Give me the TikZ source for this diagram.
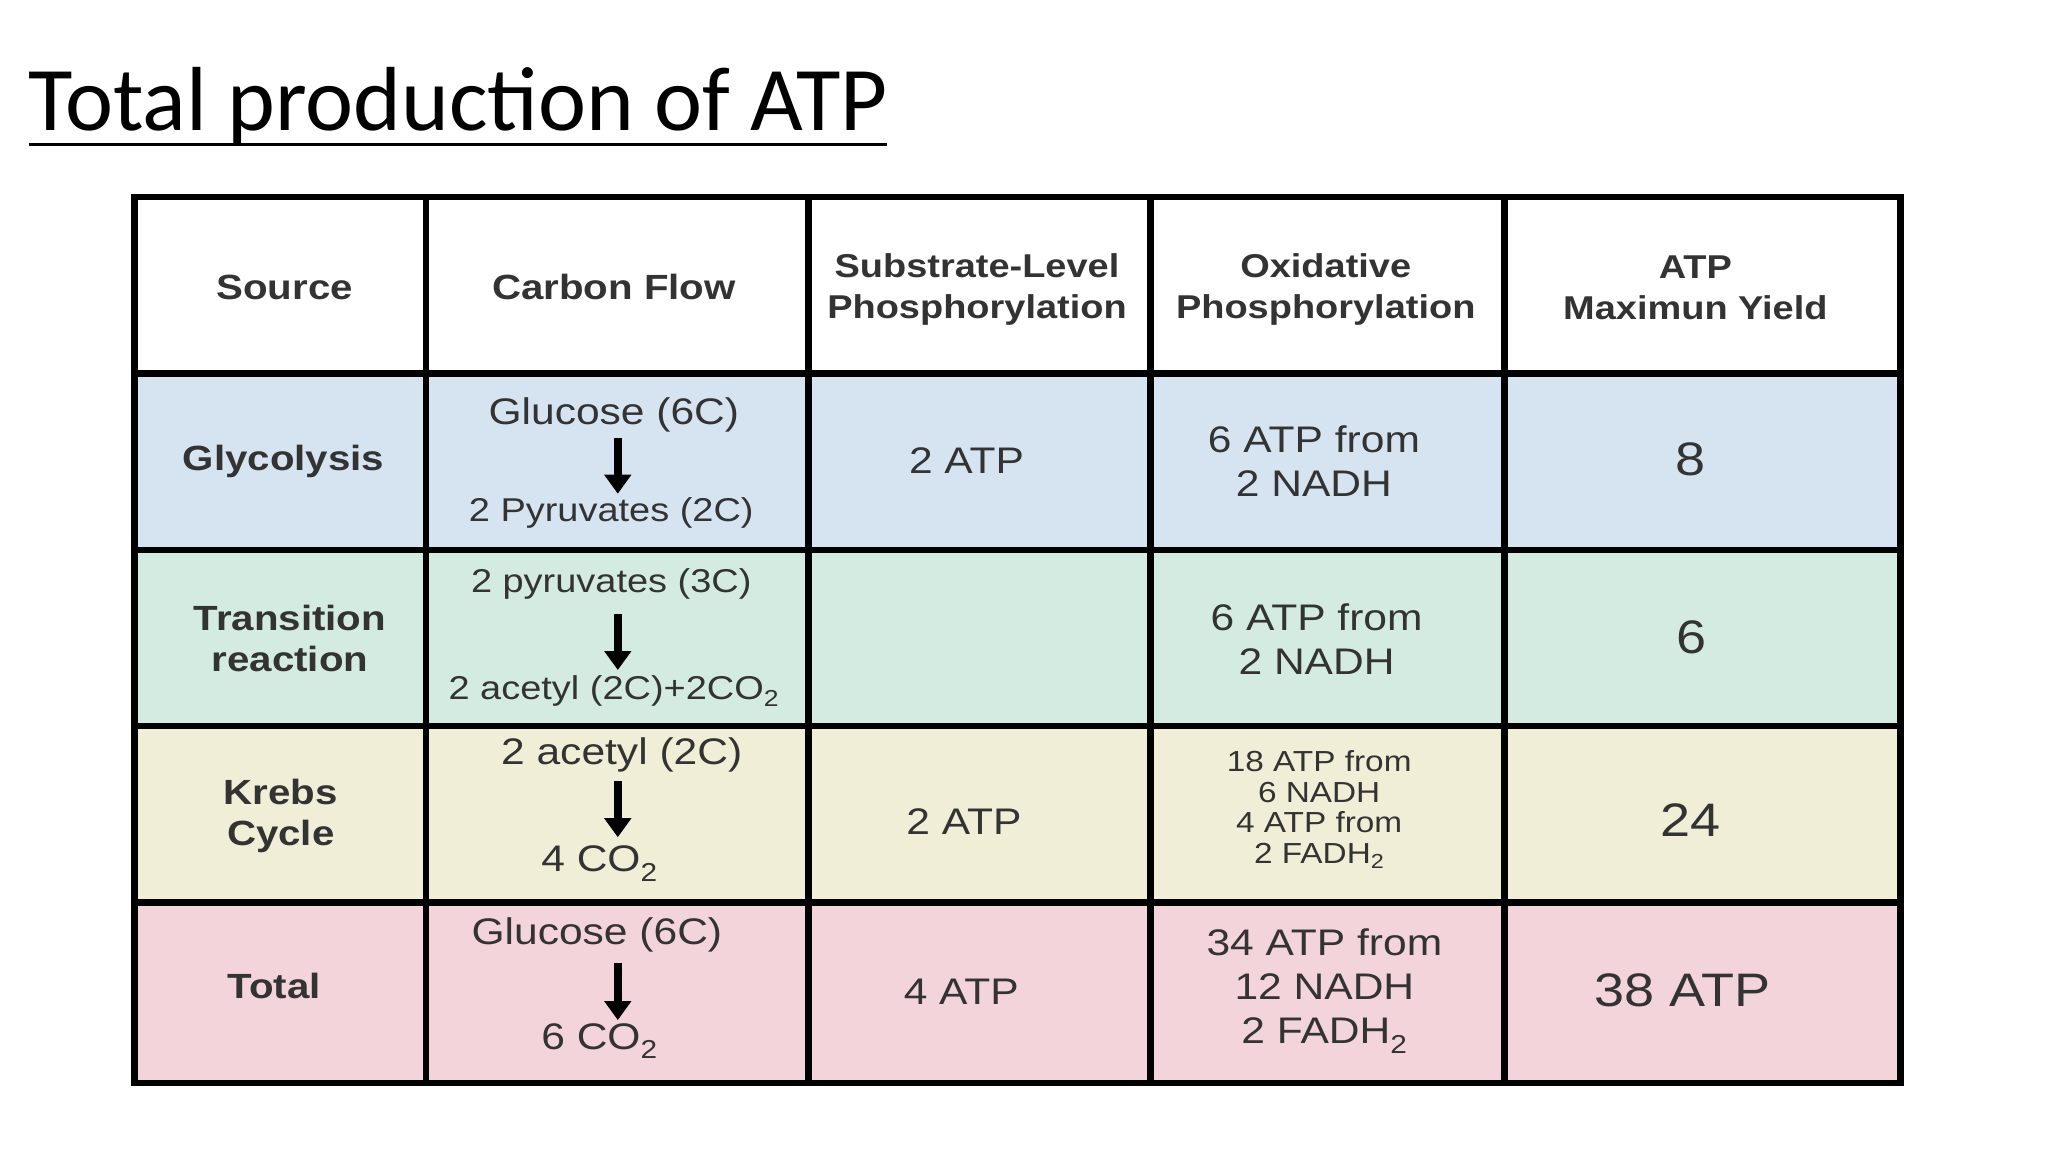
\documentclass[tikz,border=0pt]{standalone}
\usepackage{fontspec}
\setmainfont[FakeStretch=1.15]{Liberation Sans}
\newfontfamily\titlefont{Carlito}
\usetikzlibrary{arrows.meta}
\definecolor{cblue}{HTML}{D6E4F2}
\definecolor{cgreen}{HTML}{D4EBE1}
\definecolor{cyel}{HTML}{F1EED7}
\definecolor{cpink}{HTML}{F2D4DA}
\definecolor{txt}{HTML}{333333}
\tikzset{
 cell/.style={align=center,text=txt,font=\fontsize{37}{44}\selectfont,inner sep=0pt},
 small/.style={cell,font=\fontsize{33}{40}\selectfont},
 hdr/.style={cell,font=\bfseries\fontsize{35}{41}\selectfont},
 hdrtwo/.style={cell,font=\bfseries\fontsize{33}{41}\selectfont},
 big/.style={cell,font=\fontsize{47}{52}\selectfont},
 flow/.style={-{Triangle[width=26pt,length=19pt]},line width=8pt,black},
 grid/.style={line width=6.5pt,black}
}
\begin{document}
\begin{tikzpicture}[x=1.30612pt,y=-1.30612pt]
\useasboundingbox[fill=white] (0,0) rectangle (1568,882);
\node[anchor=base west,inner sep=0pt,font=\titlefont\fontsize{91}{100}\selectfont] (title) at (22,100) {Total production of ATP};
\draw[line width=3pt] (22,111) -- (679,111);
\fill[cblue] (103,286) rectangle (1455,421);
\fill[cgreen] (103,421) rectangle (1455,556);
\fill[cyel] (103,556) rectangle (1455,691);
\fill[cpink] (103,691) rectangle (1455,829);
\draw[grid] (103,151) rectangle (1455,829);
\foreach \x in {326,619,881,1152} \draw[grid] (\x,151) -- (\x,829);
\foreach \y in {286,421,556,691} \draw[grid] (103,\y) -- (1455,\y);
% header
\node[hdr] (h1) at (218,220) {Source};
\node[hdr] (h2) at (470,220) {Carbon Flow};
\node[hdrtwo] (h3) at (748,222) {Substrate-Level\\Phosphorylation};
\node[hdrtwo] (h4) at (1015,222) {Oxidative\\Phosphorylation};
\node[hdrtwo] (h5) at (1298,220) {ATP\\Maximun Yield};
% glycolysis
\node[hdr] (g1) at (217,353) {Glycolysis};
\node[cell] (g2a) at (470,318) {Glucose (6C)};
\node[small] (g2b) at (468,393) {2 Pyruvates (2C)};
\draw[flow] (473,335) -- (473,378);
\node[cell] (g3) at (740,353) {2 ATP};
\node[cell] (g4) at (1006,353) {6 ATP from\\2 NADH};
\node[big] (g5) at (1294,352) {8};
% transition
\node[hdr] (t1) at (222,489) {Transition\\reaction};
\node[small] (t2a) at (468,447) {2 pyruvates (3C)};
\node[small] (t2b) at (470,529) {2 acetyl (2C)+2CO\textsubscript{2}};
\draw[flow] (473,470) -- (473,513);
\node[cell] (t4) at (1008,489) {6 ATP from\\2 NADH};
\node[big] (t5) at (1295,488) {6};
% krebs
\node[hdr] (k1) at (215,625) {Krebs\\Cycle};
\node[cell] (k2a) at (476,578) {2 acetyl (2C)};
\node[cell] (k2b) at (459,661) {4 CO\textsubscript{2}};
\draw[flow] (473,598) -- (473,641);
\node[cell] (k3) at (738,629) {2 ATP};
\node[small,font=\fontsize{29}{30.5}\selectfont] (k4) at (1010,620) {18 ATP from\\6 NADH\\4 ATP from\\2 FADH\textsubscript{2}};
\node[big] (k5) at (1294,628) {24};
% total
\node[hdr] (s1) at (210,755) {Total};
\node[cell] (s2a) at (457,716) {Glucose (6C)};
\node[cell] (s2b) at (459,797) {6 CO\textsubscript{2}};
\draw[flow] (473,737) -- (473,781);
\node[cell] (s3) at (736,759) {4 ATP};
\node[cell,font=\fontsize{37}{44}\selectfont] (s4) at (1014,759) {34 ATP from\\12 NADH\\2 FADH\textsubscript{2}};
\node[big] (s5) at (1288,758) {38 ATP};
\end{tikzpicture}
\end{document}
